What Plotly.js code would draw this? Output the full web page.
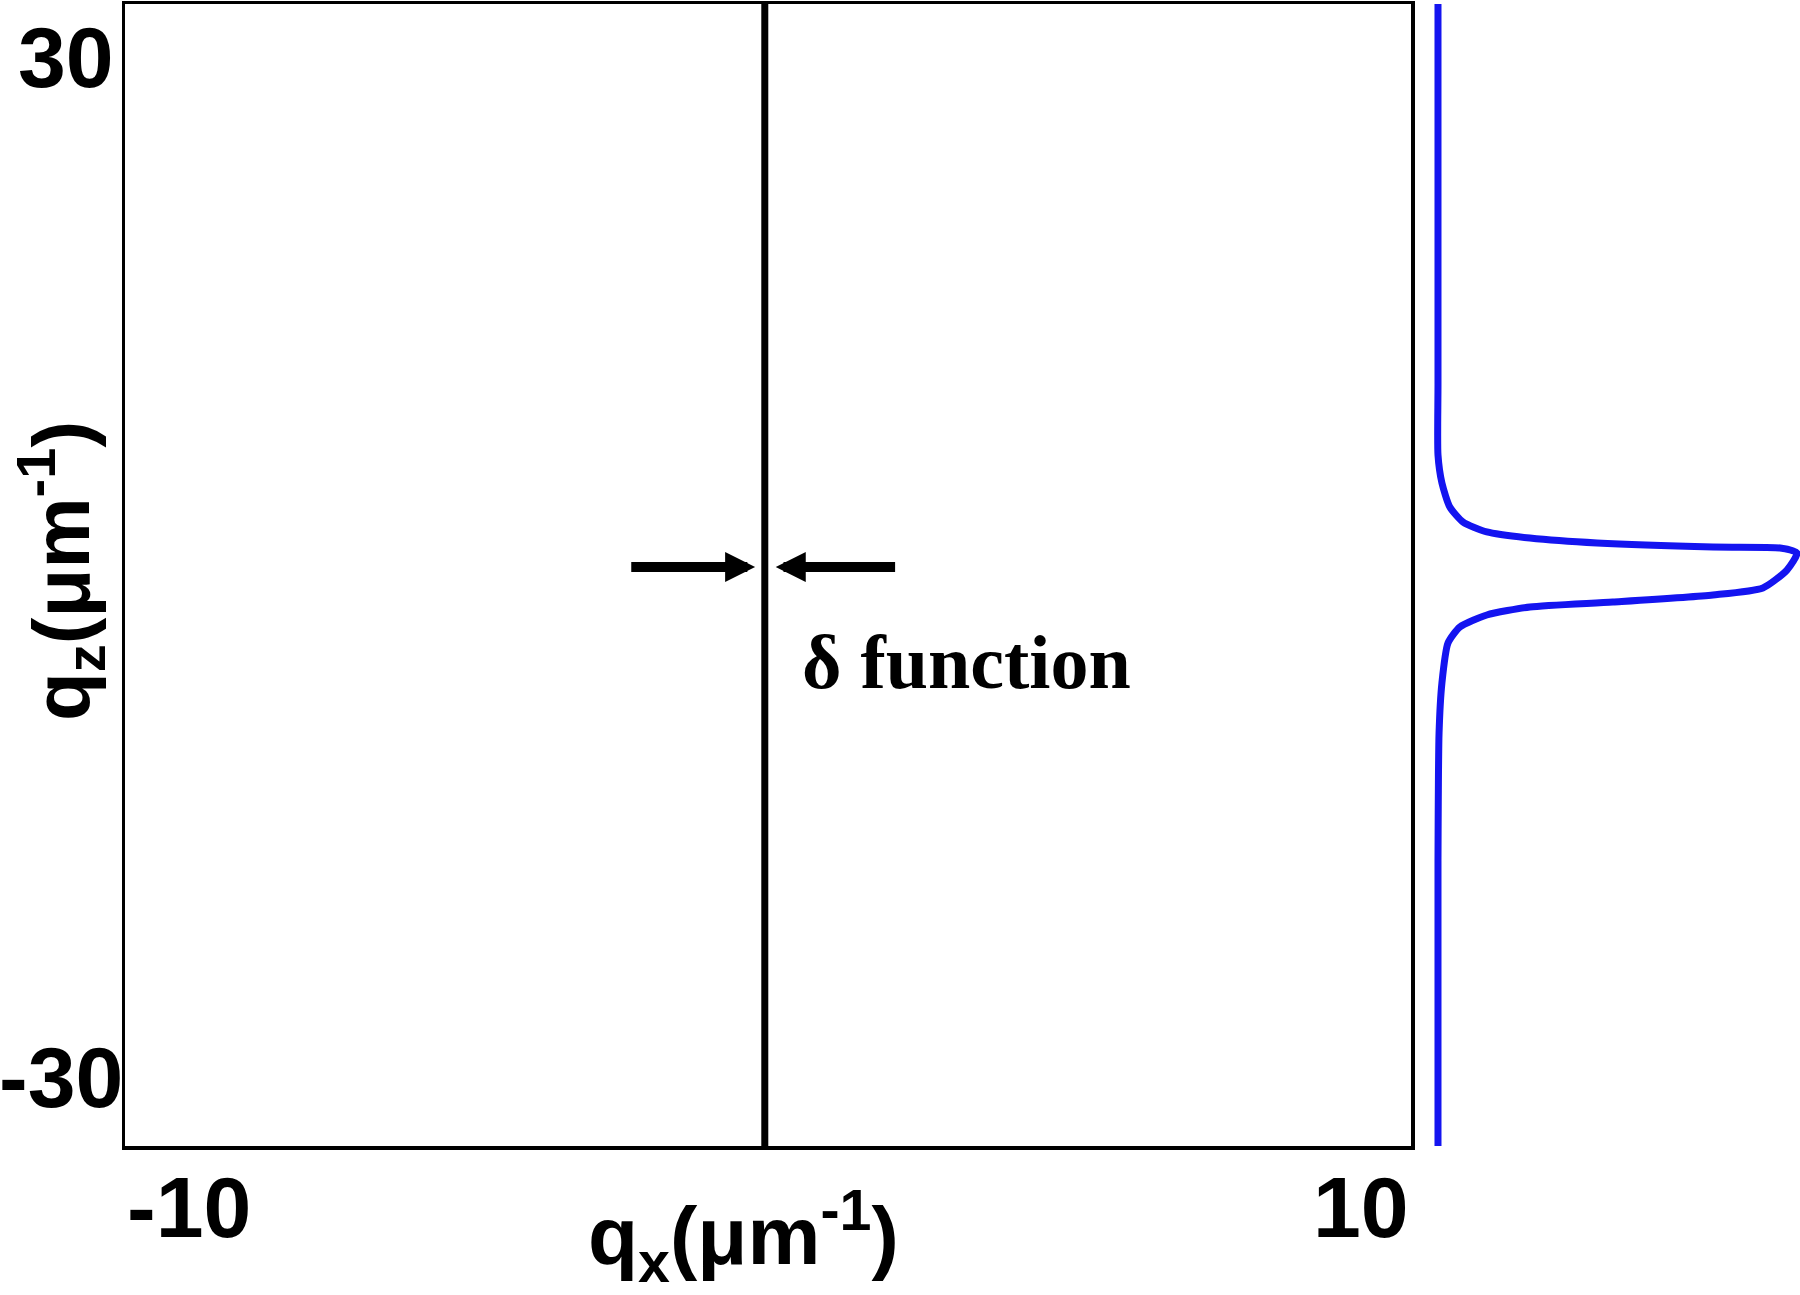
<!DOCTYPE html>
<html>
<head>
<meta charset="utf-8">
<script src="https://cdn.plot.ly/plotly-3.0.1.min.js"></script>
<style>
    html, body { margin: 0; padding: 0; background: #fff; }
    #graph { width: 1800px; height: 1295px; }
</style>
</head>
<body>
<div id="graph"></div>
<script>
// axis ranges and tick labels
const qxRange = [-10, 10];
const qzRange = [-30, 30];
const qxTickVals = [-10, 10];
const qxTickText = ['-10', '10'];
const qzTickVals = [27.2, -26.4];
const qzTickText = ['30', '-30'];

// delta function line at qx = 0
const deltaQx = [-0.05, -0.05];
const deltaQz = [-30, 30];

// intensity profile along qz (side panel)
const profileQz = [30, 10, 6.3, 4.83, 3.57, 2.78, 2.26, 1.94, 1.68, 1.47, 1.42, 1.16,
    0.26, -0.68, -1.05, -1.42, -1.68, -2.1, -2.73, -3.57, -5.67, -8.3, -15, -30];
const profileI = [0, 0, 0, 0.011, 0.033, 0.07, 0.136, 0.256, 0.443, 0.766, 0.953, 1.0,
    0.972, 0.905, 0.766, 0.487, 0.256, 0.136, 0.061, 0.028, 0.011, 0.003, 0, 0];

// arrows pointing at the delta line
const arrowTips = [-0.2, 0.12];
const arrowTails = [-2.15, 2.0];
const arrowQz = 0.42;
const labelText = 'δ function';

let chart = function () {

    const sansBold = 'Liberation Sans, Arial, sans-serif';
    const W = 1800, H = 1295;

    function px(p) { return p / W; }
    function py(p) { return (H - p) / H; }

    function buildTraces() {
        const delta = {
            x: deltaQx, y: deltaQz,
            mode: 'lines', type: 'scatter',
            line: { color: '#000', width: 7 },
            xaxis: 'x', yaxis: 'y',
            hoverinfo: 'skip',
        };
        const profile = {
            x: profileI, y: profileQz,
            mode: 'lines', type: 'scatter',
            line: { color: '#1414f0', width: 7, shape: 'spline', smoothing: 0.6 },
            xaxis: 'x2', yaxis: 'y',
            hoverinfo: 'skip',
        };
        return [delta, profile];
    }

    function buildAnnotations() {
        let notes = [];
        // arrows
        arrowTips.forEach((tip, i) => {
            notes.push({
                x: tip, y: arrowQz, ax: arrowTails[i], ay: arrowQz,
                xref: 'x', yref: 'y', axref: 'x', ayref: 'y',
                text: '', showarrow: true,
                arrowhead: 2, arrowsize: 0.6, arrowwidth: 10, arrowcolor: '#000',
                standoff: 0, startstandoff: 0,
            });
        });
        // label
        notes.push({
            x: 0.5, y: -4.57, xref: 'x', yref: 'y',
            xanchor: 'left', yanchor: 'middle',
            text: '<b>' + labelText + '</b>', showarrow: false,
            font: { family: 'Liberation Serif, Times New Roman, serif', size: 76, color: '#000' },
        });
        // x tick labels
        qxTickVals.forEach((v, i) => {
            notes.push({
                x: v, y: py(1207), xref: 'x', yref: 'paper',
                xanchor: i === 0 ? 'left' : 'right', yanchor: 'middle',
                text: '<b>' + qxTickText[i] + '</b>', showarrow: false,
                font: { family: sansBold, size: 86, color: '#000' },
            });
        });
        // y tick labels
        qzTickVals.forEach((v, i) => {
            notes.push({
                x: px(i === 0 ? 116 : 125), y: v, xref: 'paper', yref: 'y',
                xanchor: 'right', yanchor: 'middle',
                text: '<b>' + qzTickText[i] + '</b>', showarrow: false,
                font: { family: sansBold, size: 86, color: '#000' },
            });
        });
        // axis titles
        notes.push({
            x: px(743), y: py(1236), xref: 'paper', yref: 'paper',
            xanchor: 'center', yanchor: 'middle',
            text: '<b>q<sub>x</sub>(μm<sup>-1</sup>)</b>', showarrow: false,
            font: { family: sansBold, size: 82, color: '#000' },
        });
        notes.push({
            x: px(60), y: py(571), xref: 'paper', yref: 'paper',
            xanchor: 'center', yanchor: 'middle', textangle: -90,
            text: '<b>q<sub>z</sub>(μm<sup>-1</sup>)</b>', showarrow: false,
            font: { family: sansBold, size: 80, color: '#000' },
        });
        return notes;
    }

    function buildLayout() {
        return {
            width: W, height: H,
            margin: { l: 0, r: 0, t: 0, b: 0 },
            paper_bgcolor: '#fff',
            plot_bgcolor: 'rgba(0,0,0,0)',
            showlegend: false,
            xaxis: {
                domain: [px(125), px(1411)],
                range: qxRange,
                showgrid: false, zeroline: false, showticklabels: false, ticks: '',
                showline: true, mirror: true, linecolor: '#000', linewidth: 3.5,
                fixedrange: true,
            },
            xaxis2: {
                domain: [px(1420), 1],
                range: [-0.0501, 1.0084],
                visible: false, anchor: 'y',
                fixedrange: true,
            },
            yaxis: {
                domain: [py(1146), py(4)],
                range: qzRange,
                showgrid: false, zeroline: false, showticklabels: false, ticks: '',
                showline: true, mirror: true, linecolor: '#000', linewidth: 3.5,
                fixedrange: true,
            },
            annotations: buildAnnotations(),
        };
    }

    Plotly.newPlot('graph', buildTraces(), buildLayout(), { displayModeBar: false, staticPlot: true });
}();
</script>
</body>
</html>
